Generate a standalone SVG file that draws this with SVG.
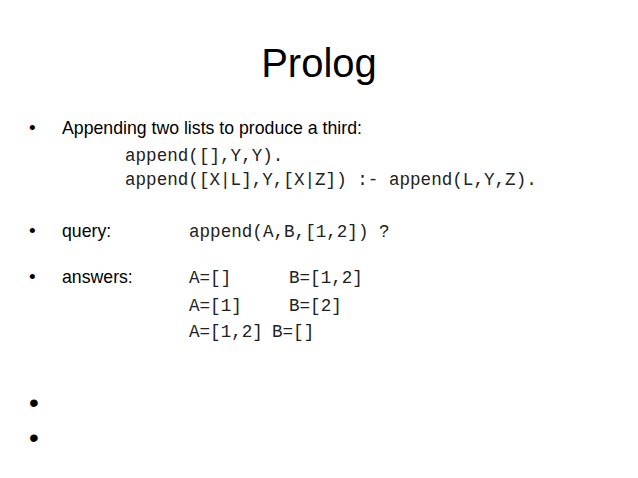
<svg xmlns="http://www.w3.org/2000/svg" width="638" height="478" viewBox="0 0 638 478">
<style>
.t{font-family:"Liberation Sans",Arial,sans-serif;font-size:17.7px;fill:#000}
.m{font-family:"Liberation Mono","Courier New",monospace;font-size:17.6px;fill:#222}
.b{font-family:"Liberation Sans",Arial,sans-serif;font-size:19px;fill:#000}
</style>
<rect width="638" height="478" fill="#fff"/>
<text x="319" y="77" text-anchor="middle" style="font-family:'Liberation Sans',Arial,sans-serif;font-size:40px">Prolog</text>
<text class="b" x="29" y="134">•</text>
<text class="t" x="62" y="134">Appending two lists to produce a third:</text>
<text class="m" x="125" y="161">append([],Y,Y).</text>
<text class="m" x="125" y="185">append([X|L],Y,[X|Z]) :- append(L,Y,Z).</text>
<text class="b" x="29" y="237">•</text>
<text class="t" x="62" y="237">query:</text>
<text class="m" x="189" y="237">append(A,B,[1,2]) ?</text>
<text class="b" x="29" y="283">•</text>
<text class="t" x="62" y="283">answers:</text>
<text class="m" x="189" y="283">A=[]</text>
<text class="m" x="289" y="283">B=[1,2]</text>
<text class="m" x="189" y="311">A=[1]</text>
<text class="m" x="289" y="311">B=[2]</text>
<text class="m" x="189" y="337">A=[1,2]</text>
<text class="m" x="272" y="337">B=[]</text>
<text x="29" y="412" style="font-family:'Liberation Sans',Arial,sans-serif;font-size:28px">•</text>
<text x="29" y="447" style="font-family:'Liberation Sans',Arial,sans-serif;font-size:28px">•</text>
</svg>
